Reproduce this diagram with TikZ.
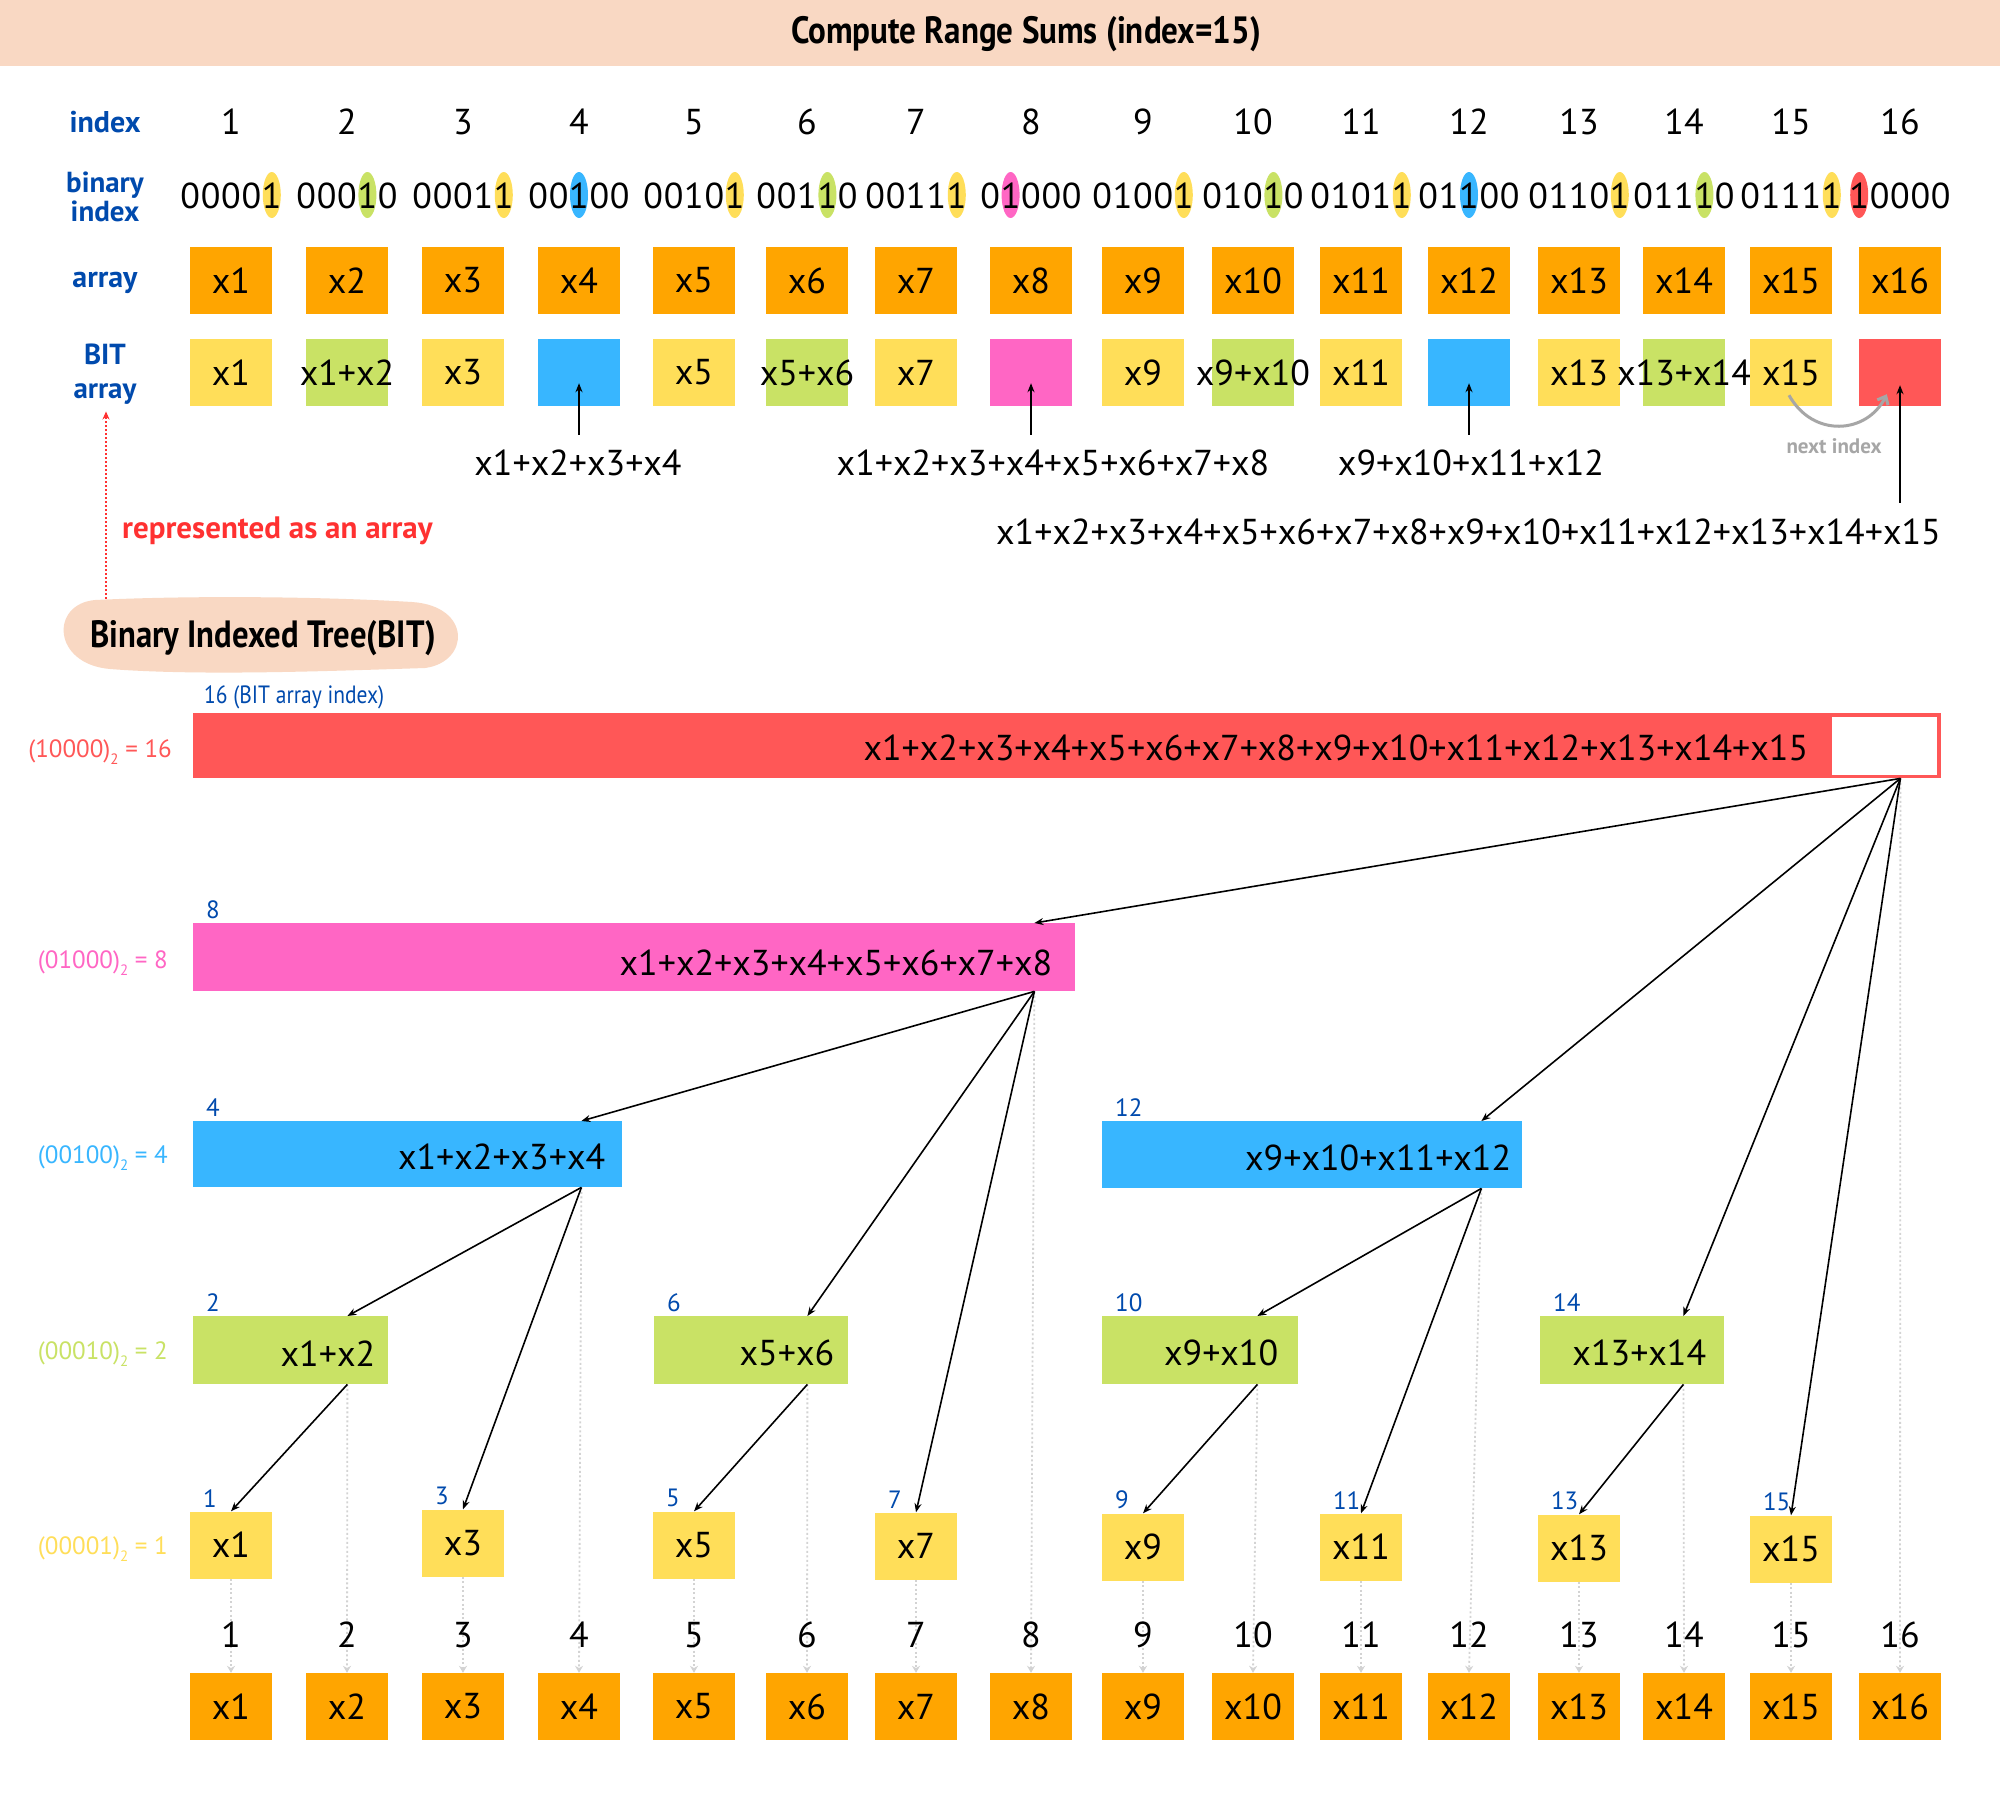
\documentclass[tikz,border=0pt]{standalone}
\usepackage{fontspec}
\usepackage{graphicx}
\setmainfont{PT Sans}
\usetikzlibrary{arrows.meta,calc}
\definecolor{cor}{HTML}{FFA500}
\definecolor{cyel}{HTML}{FFDE59}
\definecolor{cgrn}{HTML}{C9E265}
\definecolor{cblu}{HTML}{38B6FF}
\definecolor{cpnk}{HTML}{FF66C4}
\definecolor{cred}{HTML}{FF5757}
\definecolor{peach}{HTML}{F9D8C3}
\definecolor{dblue}{HTML}{004AAD}
\definecolor{rtxt}{HTML}{FF3131}
\definecolor{ngray}{HTML}{A6A6A6}
\definecolor{lgray}{HTML}{D3D3D3}
\newcommand\binstr[5]{\makebox[20.4pt]{#1}\makebox[20.4pt]{#2}\makebox[20.4pt]{#3}\makebox[20.4pt]{#4}\makebox[20.4pt]{#5}}
\newcommand\subtwo{\raisebox{-0.28em}{\fontsize{15}{15}\selectfont 2}}
\pgfdeclarelayer{back}
\pgfdeclarelayer{bg}
\pgfsetlayers{back,bg,main}
\begin{document}
\begin{tikzpicture}[x=1pt,y=-1pt,
  num/.style={font=\fontsize{36}{40}\selectfont, inner sep=0},
  lab/.style={font=\bfseries\fontsize{30}{31}\selectfont, text=dblue, inner sep=0, align=center},
  abox/.style={fill=cor, minimum width=82pt, minimum height=67pt, inner sep=0, font=\fontsize{36}{40}\selectfont},
  bbox/.style={minimum width=82pt, minimum height=67pt, inner sep=0, font=\fontsize{36}{40}\selectfont},
  bar/.style={inner sep=0, anchor=north west},
  btxt/.style={inner sep=0, font=\fontsize{36}{40}\selectfont, anchor=east},
  sumtxt/.style={inner sep=0, font=\fontsize{36}{40}\selectfont},
  tlab/.style={inner sep=0, text=dblue, font=\fontsize{25}{27}\selectfont, anchor=south west},
  lvl/.style={inner sep=0, font=\fontsize{25}{27}\selectfont, anchor=east},
  edge/.style={draw=black, line width=1.6pt, -{Stealth[length=9pt,width=7pt]}},
  gdot/.style={draw=lgray, line width=1.8pt, dash pattern=on 2pt off 2.5pt, -{Stealth[length=7pt,width=8pt]}},
  reddot/.style={draw=rtxt, line width=2pt, dash pattern=on 2pt off 2pt, -{Stealth[length=8pt,width=7pt]}},
  nextarr/.style={draw=ngray, line width=3pt, -{Straight Barb[length=7pt,width=12pt]}}
]
\begin{pgfonlayer}{back}
\fill[white] (0,0) rectangle (2000,1800);
\end{pgfonlayer}
\useasboundingbox (0,0) rectangle (2000,1800);
\def\colx{{231,347,463,579,694,807,916,1031,1143,1253,1361,1469,1579,1684,1791,1900}}

% title band
\fill[peach] (0,0) rectangle (2000,66);
\node[inner sep=0, font=\bfseries\fontsize{38}{40}\selectfont] (title) at (1026,34) {\scalebox{0.87}[1]{Compute Range Sums (index=15)}};

% row labels
\node[lab] (lidx) at (105,122) {index};
\node[lab, font=\bfseries\fontsize{29}{29}\selectfont] (lbin) at (105,197) {binary\\index};
\node[lab] (larr) at (105,283) {array};
\node[lab, font=\bfseries\fontsize{29}{34}\selectfont] (lbit) at (105,374) {BIT\\array};

% columns top
\foreach \i in {1,...,16}{
  \pgfmathsetmacro\cx{\colx[\i-1]}
  \node[num] (ti\i) at (\cx,122) {\i};
  \node[abox] (at\i) at (\cx,280.5) {x\i};
  \node[abox] (ab\i) at (\cx,1706.5) {x\i};
  \node[num] (bi\i) at (\cx,1635) {\i};
}
% binary row
\foreach \i/\bs/\kk/\cc in {1/00001/4/cyel,2/00010/3/cgrn,3/00011/4/cyel,4/00100/2/cblu,5/00101/4/cyel,6/00110/3/cgrn,7/00111/4/cyel,8/01000/1/cpnk,9/01001/4/cyel,10/01010/3/cgrn,11/01011/4/cyel,12/01100/2/cblu,13/01101/4/cyel,14/01110/3/cgrn,15/01111/4/cyel,16/10000/0/cred}{
  \pgfmathsetmacro\cx{\colx[\i-1]}
  \fill[\cc] (\cx+\kk*20.4-40.8,195) ellipse [x radius=9, y radius=23];
  \node[num] (bn\i) at (\cx,196) {\expandafter\binstr\bs};
}
% BIT row
\foreach \i/\cc/\tt in {1/cyel/x1,2/cgrn/x1+x2,3/cyel/x3,4/cblu/,5/cyel/x5,6/cgrn/x5+x6,7/cyel/x7,8/cpnk/,9/cyel/x9,10/cgrn/x9+x10,11/cyel/x11,12/cblu/,13/cyel/x13,14/cgrn/x13+x14,15/cyel/x15,16/cred/}{
  \pgfmathsetmacro\cx{\colx[\i-1]}
  \node[bbox, fill=\cc] (bt\i) at (\cx,372.5) {\makebox[0pt]{\tt}};
}
% sum labels under BIT row
\node[sumtxt] (l4) at (578,463) {x1+x2+x3+x4};
\node[sumtxt] (l8) at (1053,463) {x1+x2+x3+x4+x5+x6+x7+x8};
\node[sumtxt] (l12) at (1471,463) {x9+x10+x11+x12};
\node[sumtxt, anchor=east] (l16) at (1941,532) {x1+x2+x3+x4+x5+x6+x7+x8+x9+x10+x11+x12+x13+x14+x15};
\draw[edge] ($(l4.north -| bt4.south)+(0,-15)$) -- ($(bt4.south)+(0,-23)$);
\draw[edge] ($(l8.north -| bt8.south)+(0,-15)$) -- ($(bt8.south)+(0,-23)$);
\draw[edge] ($(l12.north -| bt12.south)+(0,-15)$) -- ($(bt12.south)+(0,-23)$);
\draw[edge] ($(l16.north -| bt16.south)+(0,-16)$) -- ($(bt16.south)+(0,-21)$);
% next index
\draw[nextarr] ($(bt15.south)+(-2,-11)$) .. controls ($(bt15.south)+(22,32)$) and ($(bt16.south west)+(8,28)$) .. ($(bt16.south west)+(28,-12)$);
\node[inner sep=0, text=ngray, font=\bfseries\fontsize{21}{23}\selectfont] (nxt) at (1834,446) {next index};

% represented as an array
\node[inner sep=0, text=rtxt, font=\bfseries\fontsize{31}{33}\selectfont, anchor=west] (repr) at (122,531) {represented as an array};
\fill[peach] (95,600) .. controls (200,595) and (330,597) .. (412,602) .. controls (472,606) and (470,662) .. (425,668) .. controls (330,671) and (200,676) .. (110,669) .. controls (52,664) and (50,604) .. (95,600) -- cycle;
\node[inner sep=0, font=\bfseries\fontsize{38}{40}\selectfont] (blob) at (263,638) {\scalebox{0.86}[1]{Binary Indexed Tree(BIT)}};
\coordinate (blobtop) at (106,599);
\draw[reddot] (blobtop) -- ($(lbit.south)+(1,7)$);

% tree bars
\node[bar, fill=cred, minimum width=1748pt, minimum height=65pt] (t16) at (193,713) {};
\node[inner sep=0, fill=white, minimum width=105pt, minimum height=58pt, anchor=east] (w16) at ($(t16.east)+(-4,0)$) {};
\node[bar, fill=cpnk, minimum width=882pt, minimum height=68pt] (t8) at (193,923) {};
\node[bar, fill=cblu, minimum width=429pt, minimum height=66pt] (t4) at (193,1121) {};
\node[bar, fill=cblu, minimum width=420pt, minimum height=67pt] (t12) at (1102,1121) {};
\node[bar, fill=cgrn, minimum width=195pt, minimum height=68pt] (t2) at (193,1316) {};
\node[bar, fill=cgrn, minimum width=194pt, minimum height=68pt] (t6) at (654,1316) {};
\node[bar, fill=cgrn, minimum width=196pt, minimum height=68pt] (t10) at (1102,1316) {};
\node[bar, fill=cgrn, minimum width=184pt, minimum height=68pt] (t14) at (1540,1316) {};
\foreach \i/\yc in {1/1545,3/1543,5/1545,7/1546,9/1547,11/1547,13/1548,15/1549}{
  \pgfmathsetmacro\cx{\colx[\i-1]}
  \node[bbox, fill=cyel] (t\i) at (\cx,\yc) {x\i};
  \coordinate (t\i i) at (t\i.north);
  \coordinate (t\i o) at (t\i.south);
}
\foreach \n in {16,8,4,12,2,6,10,14}{
  \coordinate (t\n i) at ($(t\n.north east)+(-41,0)$);
  \coordinate (t\n o) at ($(t\n.south east)+(-41,0)$);
}
% bar texts
\node[btxt] (s16) at ($(t16.east)+(-133,2)$) {x1+x2+x3+x4+x5+x6+x7+x8+x9+x10+x11+x12+x13+x14+x15};
\node[btxt] (s8) at ($(t8.east)+(-23,6)$) {x1+x2+x3+x4+x5+x6+x7+x8};
\node[btxt] (s4) at ($(t4.east)+(-17,3)$) {x1+x2+x3+x4};
\node[btxt] (s12) at ($(t12.east)+(-11,3)$) {x9+x10+x11+x12};
\node[btxt] (s2) at ($(t2.east)+(-13,3)$) {x1+x2};
\node[btxt] (s6) at ($(t6.east)+(-14,3)$) {x5+x6};
\node[btxt] (s10) at ($(t10.east)+(-20,3)$) {x9+x10};
\node[btxt] (s14) at ($(t14.east)+(-18,3)$) {x13+x14};
% tree index labels
\node[tlab] (n16) at ($(t16.north west)+(11,-4)$) {\scalebox{0.86}[1]{16 (BIT array index)}};
\foreach \n in {8,4,12,2,6,10,14,1,3,5,7,9,11,13,15}{
  \node[tlab] (n\n) at ($(t\n.north west)+(13,-4)$) {\n};
}
% level labels
\node[lvl, text=cred] (v16) at (172,752) {(10000)\subtwo{} = 16};
\node[lvl, text=cpnk] (v8) at (168,963) {(01000)\subtwo{} = 8};
\node[lvl, text=cblu] (v4) at (168,1158) {(00100)\subtwo{} = 4};
\node[lvl, text=cgrn] (v2) at (168,1354) {(00010)\subtwo{} = 2};
\node[lvl, text=cyel] (v1) at (168,1549) {(00001)\subtwo{} = 1};

% tree edges
\foreach \a/\b in {16/8,16/12,16/14,16/15,8/4,8/6,8/7,4/2,4/3,12/10,12/11,2/1,6/5,10/9,14/13}{
  \draw[edge] (t\a o) -- (t\b i);
}
% gray dotted down lines
\begin{pgfonlayer}{bg}
\foreach \n in {1,...,16}{
  \draw[gdot] (t\n o) -- (ab\n.north);
}
\end{pgfonlayer}
\end{tikzpicture}
\end{document}
